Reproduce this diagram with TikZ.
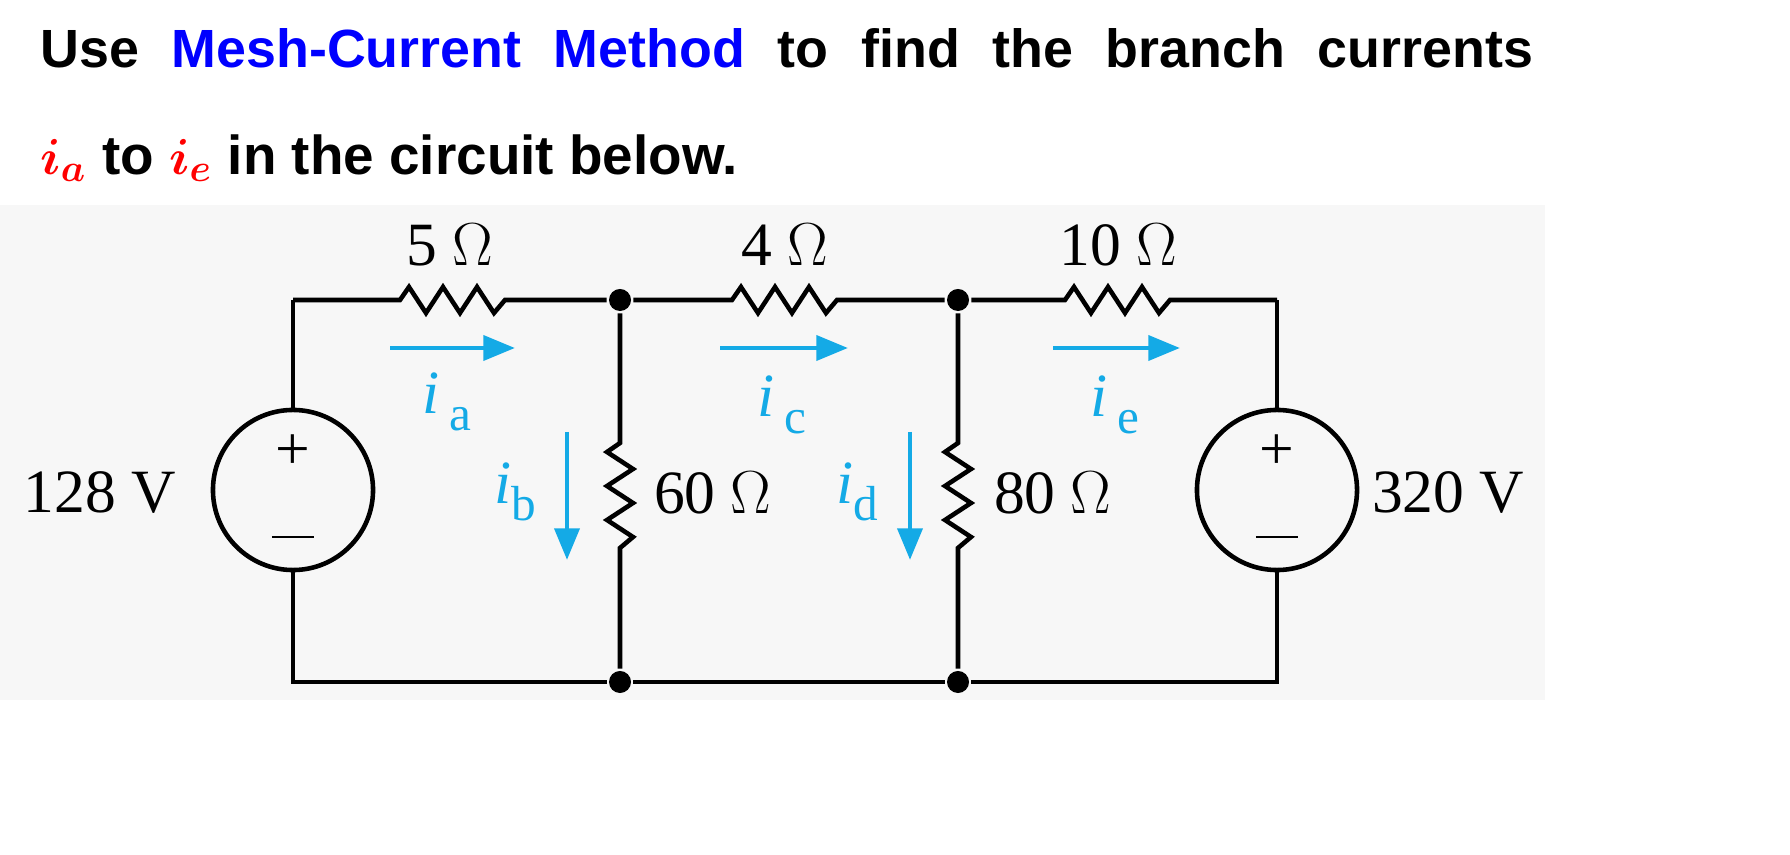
\documentclass[tikz,border=0pt]{standalone}
\usepackage{fontspec}
\setmainfont{Liberation Serif}
\newfontfamily\titlefont{Liberation Sans}
\usepackage{amsmath}
\usetikzlibrary{arrows.meta}
\definecolor{cy}{RGB}{20,170,230}
\begin{document}
\begin{tikzpicture}[x=0.01cm,y=-0.01cm,line width=1.3pt,
  lab/.style={font=\fontsize{17.5}{20}\selectfont},
  sub/.style={},
  carrow/.style={draw=cy,line width=1.4pt,-{Triangle[length=9pt,width=7pt]}},
  dot/.style={circle,fill=black,inner sep=0pt,minimum size=0.22cm},
  src/.style={circle,draw,minimum size=1.6cm,inner sep=0pt}]
\fill[gray!6] (0,205) rectangle (1545,700);
% title
\node[anchor=west,inner sep=0,font=\titlefont\bfseries\fontsize{15.3}{18}\selectfont] (t1) at (38,48)
 {\hbox to 14.92cm{Use\hfill\textcolor{blue}{Mesh-Current}\hfill\textcolor{blue}{Method}\hfill to\hfill find\hfill the\hfill branch\hfill currents}};
\node[anchor=west,inner sep=0,font=\titlefont\bfseries\fontsize{15.6}{18}\selectfont] (t2) at (38,158)
 {\textcolor{red}{$\boldsymbol{i_a}$} to \textcolor{red}{$\boldsymbol{i_e}$} in the circuit below.};
% nodes
\node[dot] (n1) at (620,300) {};
\node[dot] (n2) at (958,300) {};
\node[dot] (n3) at (620,682) {};
\node[dot] (n4) at (958,682) {};
\coordinate (tl) at (293,300); \coordinate (bl) at (293,682);
\coordinate (tr) at (1277,300); \coordinate (br) at (1277,682);
\node[src] (s1) at (293,490) {};
\node[src] (s2) at (1277,490) {};
% horizontal resistors
\draw (tl) -- (400,300) -- (409,287) -- (426,313) -- (443,287) -- (460,313) -- (477,287) -- (494,313) -- (505,300) -- (n1);
\draw (n1) -- (732,300) -- (741,287) -- (758,313) -- (775,287) -- (792,313) -- (809,287) -- (826,313) -- (837,300) -- (n2);
\draw (n2) -- (1065,300) -- (1074,287) -- (1091,313) -- (1108,287) -- (1125,313) -- (1142,287) -- (1159,313) -- (1170,300) -- (tr);
% vertical resistors
\draw (n1) -- (620,443) -- (607,452) -- (633,469) -- (607,486) -- (633,503) -- (607,520) -- (633,537) -- (620,548) -- (n3);
\draw (n2) -- (958,443) -- (945,452) -- (971,469) -- (945,486) -- (971,503) -- (945,520) -- (971,537) -- (958,548) -- (n4);
% outer wires
\draw (s1.north) -- (tl); \draw (s1.south) -- (bl) -- (n3) -- (n4) -- (br) -- (s2.south);
\draw (s2.north) -- (tr);
\node[lab] at (293,452) {+}; \node[lab] at (293,537) {\rule{12pt}{0.7pt}};
\node[lab] at (1277,452) {+}; \node[lab] at (1277,537) {\rule{12pt}{0.7pt}};
% labels
\node[lab] (r1) at (450,245) {5 $\Omega$};
\node[lab] (r2) at (785,245) {4 $\Omega$};
\node[lab] (r3) at (1118,245) {10 $\Omega$};
\node[lab,anchor=west] (r4) at (640,493) {60 $\Omega$};
\node[lab,anchor=west] (r5) at (980,493) {80 $\Omega$};
\node[lab,anchor=east] (v1) at (190,493) {128 V};
\node[lab,anchor=west] (v2) at (1358,493) {320 V};
% currents
\draw[carrow] (390,348) -- (515,348);
\draw[carrow] (720,348) -- (848,348);
\draw[carrow] (1053,348) -- (1180,348);
\draw[carrow] (567,432) -- (567,560);
\draw[carrow] (910,432) -- (910,560);
\node[lab,text=cy] (ia) at (447,402) {\textit{i}\,{\fontsize{14}{16}\selectfont\raisebox{-5pt}{a}}};
\node[lab,text=cy] (ic) at (782,405) {\textit{i}\,{\fontsize{14}{16}\selectfont\raisebox{-5pt}{c}}};
\node[lab,text=cy] (ie) at (1115,405) {\textit{i}\,{\fontsize{14}{16}\selectfont\raisebox{-5pt}{e}}};
\node[lab,text=cy] (ib) at (515,492) {\textit{i}{\fontsize{14}{16}\selectfont\raisebox{-5pt}{b}}};
\node[lab,text=cy] (id) at (857,492) {\textit{i}{\fontsize{14}{16}\selectfont\raisebox{-5pt}{d}}};
\pgfresetboundingbox
\useasboundingbox (0,0) rectangle (1790,855);
\end{tikzpicture}
\end{document}
